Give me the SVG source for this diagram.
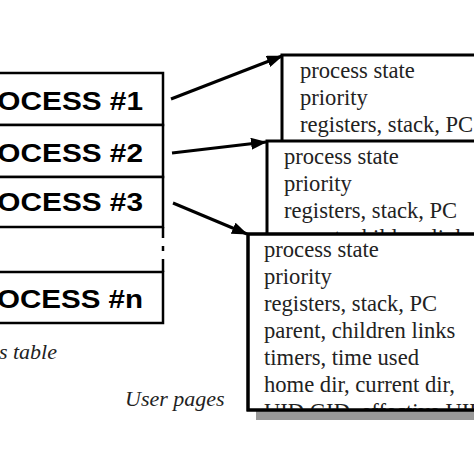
<svg xmlns="http://www.w3.org/2000/svg" width="474" height="474" viewBox="0 0 474 474">
<style>
.row{fill:#fff;stroke:#000;stroke-width:2.5}
.ptxt{font-family:"Liberation Sans",Arial,sans-serif;font-weight:bold;font-size:26px;fill:#000}
.box{fill:#fff;stroke:#000;stroke-width:3}
.shadow{fill:#999}
.btxt{font-family:"Liberation Serif","Times New Roman",serif;font-size:22.6px;fill:#222}
.cap{font-family:"Liberation Serif","Times New Roman",serif;font-style:italic;font-size:22px;fill:#222}
.conn{stroke:#000;stroke-width:3;fill:none}
</style>
<defs>
<marker id="ah" markerUnits="userSpaceOnUse" markerWidth="16" markerHeight="12" refX="15" refY="6" orient="auto">
<path d="M0,0 L16,6 L0,12 z" fill="#000"/>
</marker>
<clipPath id="c1"><rect x="282" y="55" width="220" height="86"/></clipPath>
<clipPath id="c2"><rect x="267" y="141" width="230" height="92"/></clipPath>
<clipPath id="c3"><rect x="248" y="234" width="240" height="176"/></clipPath>
</defs>
<rect width="474" height="474" fill="#fff"/>

<g id="process-table">
<g id="row1">
<rect class="row" x="-10" y="73" width="173" height="52"/>
<text class="ptxt" x="-44" y="110" textLength="187" lengthAdjust="spacingAndGlyphs">PROCESS #1</text>
</g>
<g id="row2">
<rect class="row" x="-10" y="125" width="173" height="52"/>
<text class="ptxt" x="-44" y="162" textLength="187" lengthAdjust="spacingAndGlyphs">PROCESS #2</text>
</g>
<g id="row3">
<rect class="row" x="-10" y="177" width="173" height="50"/>
<text class="ptxt" x="-44" y="211" textLength="187" lengthAdjust="spacingAndGlyphs">PROCESS #3</text>
</g>
<g id="gap">
<line x1="163" y1="227" x2="163" y2="238" stroke="#000" stroke-width="2.5"/>
<line x1="163" y1="246" x2="163" y2="251" stroke="#000" stroke-width="2.5"/>
<line x1="163" y1="259" x2="163" y2="272" stroke="#000" stroke-width="2.5"/>
</g>
<g id="rown">
<rect class="row" x="-10" y="272" width="173" height="51"/>
<text class="ptxt" x="-44" y="308" textLength="187" lengthAdjust="spacingAndGlyphs">PROCESS #n</text>
</g>
<text id="table-label" class="cap" x="57" y="359" text-anchor="end">Process table</text>
</g>

<g id="connectors">
<line class="conn" x1="171" y1="99" x2="282" y2="56" marker-end="url(#ah)"/>
<line class="conn" x1="172" y1="153" x2="266" y2="142" marker-end="url(#ah)"/>
<line class="conn" x1="173" y1="203" x2="247" y2="234" marker-end="url(#ah)"/>
</g>

<g id="pcb1">
<rect class="box" x="282" y="55" width="220" height="200"/>
<g clip-path="url(#c1)">
<text class="btxt" x="300" y="78">process state</text>
<text class="btxt" x="300" y="105">priority</text>
<text class="btxt" x="300" y="132">registers, stack, PC</text>
</g>
</g>

<g id="pcb2">
<rect class="box" x="267" y="141" width="230" height="200"/>
<g clip-path="url(#c2)">
<text class="btxt" x="284" y="164">process state</text>
<text class="btxt" x="284" y="191">priority</text>
<text class="btxt" x="284" y="218">registers, stack, PC</text>
<text class="btxt" x="284" y="245">parent, children links</text>
</g>
</g>

<g id="pcb3">
<rect class="shadow" x="256" y="411" width="230" height="9"/>
<rect class="box" x="248" y="234" width="240" height="176"/>
<g clip-path="url(#c3)">
<text class="btxt" x="264" y="257">process state</text>
<text class="btxt" x="264" y="284">priority</text>
<text class="btxt" x="264" y="311">registers, stack, PC</text>
<text class="btxt" x="264" y="338">parent, children links</text>
<text class="btxt" x="264" y="365">timers, time used</text>
<text class="btxt" x="264" y="392">home dir, current dir,</text>
<text class="btxt" x="264" y="419">UID GID, effective UID</text>
</g>
<rect x="248" y="234" width="240" height="176" fill="none" stroke="#000" stroke-width="3"/>
</g>

<text id="user-pages" class="cap" x="125" y="406">User pages</text>
</svg>
